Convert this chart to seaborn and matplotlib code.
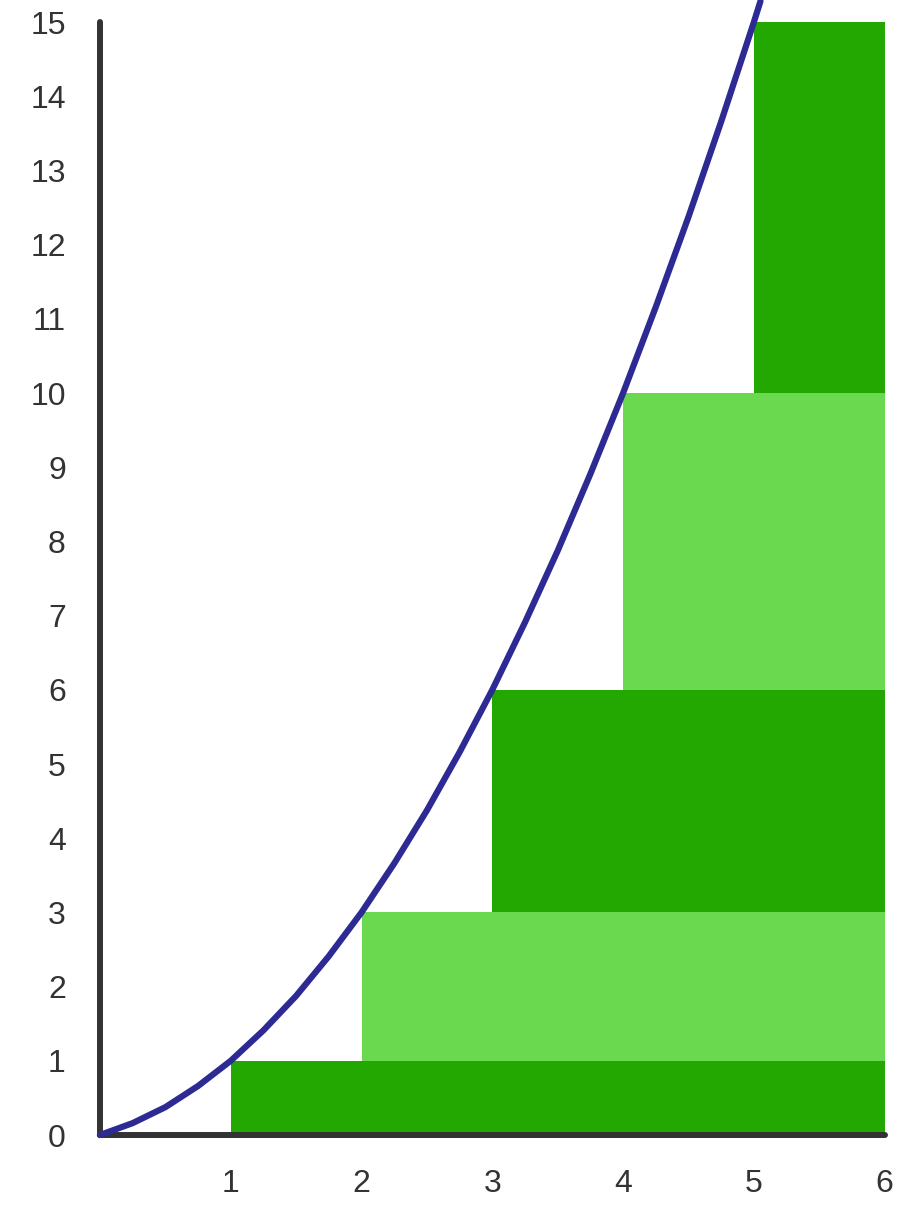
import matplotlib
matplotlib.use("Agg")
import matplotlib.pyplot as plt
import seaborn as sns

sns.set_style("white")
plt.rcParams['font.family'] = ['Liberation Sans', 'DejaVu Sans']

# bands: bottom, top, left start (to x=6)
band_bottom = [0, 1, 3, 6, 10]
band_top = [1, 3, 6, 10, 15]
band_left = [1, 2, 3, 4, 5]
band_colors = ["#22a800", "#6ad94f", "#22a800", "#6ad94f", "#22a800"]
x_right = 6

curve_x = [0, 0.25, 0.5, 0.75, 1, 1.25, 1.5, 1.75, 2, 2.25, 2.5, 2.75, 3, 3.25, 3.5, 3.75, 4, 4.25, 4.5, 4.75, 5, 5.05]
curve_y = [0, 0.16, 0.375, 0.66, 1, 1.41, 1.875, 2.41, 3, 3.66, 4.375, 5.16, 6, 6.91, 7.875, 8.91, 10, 11.16, 12.375, 13.66, 15, 15.28]

xticks = [1, 2, 3, 4, 5, 6]
yticks = list(range(0, 16))

fig = plt.figure(figsize=(9, 12.19), dpi=100)
ax = fig.add_axes([0.111, 0.0689, 0.872, 0.913])

for b, t, l, c in zip(band_bottom, band_top, band_left, band_colors):
    ax.barh(b, x_right - l, left=l, height=t - b, align='edge', color=c, linewidth=0)

sns.lineplot(x=curve_x, y=curve_y, ax=ax, color="#2e2a94", linewidth=4.5, clip_on=False, zorder=5)

ax.set_xlim(0, 6)
ax.set_ylim(0, 15)
ax.set_xticks(xticks)
ax.set_yticks(yticks)
ax.set_xticklabels([str(v) for v in xticks], fontsize=23, color="#333333")
ax.set_yticklabels([str(v) for v in yticks], fontsize=23, color="#333333")
for s in ['top', 'right']:
    ax.spines[s].set_visible(False)
for s in ['left', 'bottom']:
    ax.spines[s].set_linewidth(4.3)
    ax.spines[s].set_color("#333333")
    ax.spines[s].set_capstyle('round')
ax.tick_params(axis='both', direction='inout', length=41, width=4.3, color="#333333")
ax.tick_params(axis='y', pad=4)
ax.tick_params(axis='x', pad=4)
for tl in ax.yaxis.get_ticklines() + ax.xaxis.get_ticklines():
    tl.set_solid_capstyle('round')
ax.set_xlabel("")
ax.set_ylabel("")
fig.savefig("out.png", dpi=100)
